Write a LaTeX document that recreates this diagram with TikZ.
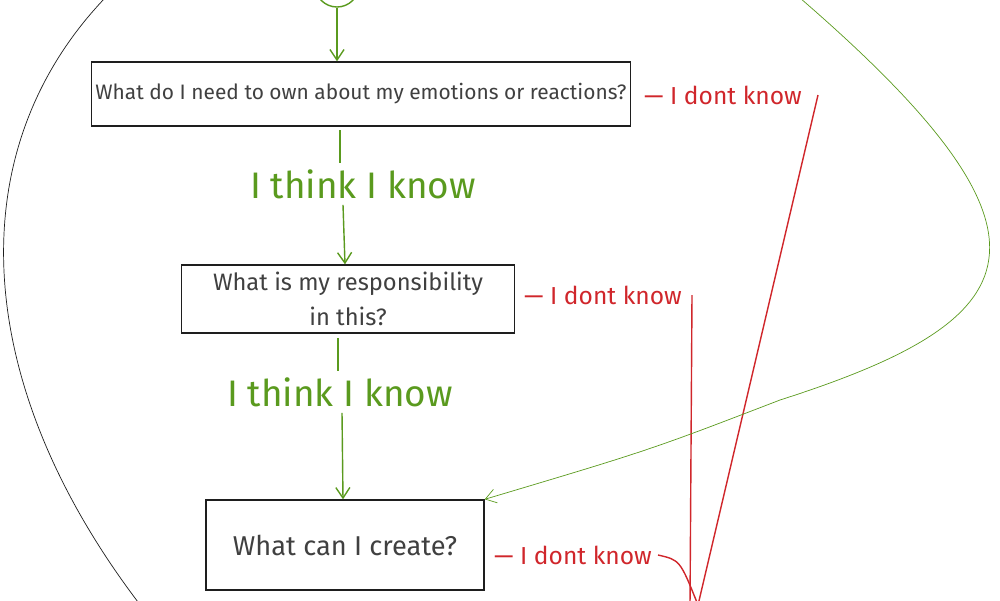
\documentclass[tikz,border=0pt]{standalone}
\usepackage{fontspec}
\setmainfont{Fira Sans}
\usetikzlibrary{arrows.meta}
\definecolor{gr}{HTML}{5A9A1E}
\definecolor{rd}{HTML}{D0262B}
\definecolor{tx}{HTML}{1E1E1E}
\tikzset{
  q/.style={draw=tx,thick,fill=white,align=center,inner sep=0pt,text=tx!85},
  gl/.style={draw=gr,thick},
  ga/.style={draw=gr,thick,-{Straight Barb[length=6pt,width=8pt]}},
  rl/.style={draw=rd,thick},
  lbg/.style={text=gr,font=\fontsize{21}{24}\selectfont},
  lbr/.style={text=rd,font=\fontsize{14}{16}\selectfont}
}
\begin{document}
\begin{tikzpicture}[x=0.02cm,y=-0.02cm]
\useasboundingbox (0,0) rectangle (1000,600);
\clip (0,0) rectangle (1000,600);
% top circle
\draw[gr,thick] (337,-15) circle (22);
\coordinate (c0) at (337,8);
\node[q,minimum width=539*0.02cm,minimum height=64*0.02cm,font=\fontsize{11.9}{14}\selectfont] (b1) at (361,94) {What do I need to own about my emotions or reactions?};
\node[q,minimum width=333*0.02cm,minimum height=68*0.02cm,font=\fontsize{13.5}{20}\selectfont] (b2) at (348,299) {What is my responsibility\\ in this?};
\node[q,minimum width=278*0.02cm,minimum height=90*0.02cm,font=\fontsize{15.5}{18}\selectfont] (b3) at (345,545) {What can I create?};
\draw[ga] (c0) -- (b1.north -| c0);
% think labels
\node[lbg] (t1) at (363,184) {I think I know};
\node[lbg] (t2) at (340,392) {I think I know};
\draw[gl] (340,130) -- (t1.north -| 340,0);
\draw[ga] (t1.south -| 343,0) -- (b2.north -| 345,0);
\draw[gl] (338,338) -- (t2.north -| 338,0);
\draw[ga] (t2.south -| 342,0) -- (b3.north -| 343,0);
% dont know
\node[lbr,anchor=west] (d1) at (638,95) {— I dont know};
\node[lbr,anchor=west] (d2) at (518,295) {— I dont know};
\node[lbr,anchor=west] (d3) at (488,555) {— I dont know};
\coordinate (e) at (698,605);
\draw[rl] (818,95) -- (e);
\draw[rl] (692,295) -- (690,605);
\draw[rl] (d3.east) .. controls (680,560) .. (e);
% black curve
\draw[tx,thin] (105,-2) .. controls (-40,150) and (-30,380) .. (138,602);
% green curve
\draw[gr,thin,-{Straight Barb[length=6pt,width=8pt]}] (800,-2) .. controls (1080,240) and (1030,320) .. (780,400) .. controls (650,450) .. (b3.north east);
\end{tikzpicture}
\end{document}
